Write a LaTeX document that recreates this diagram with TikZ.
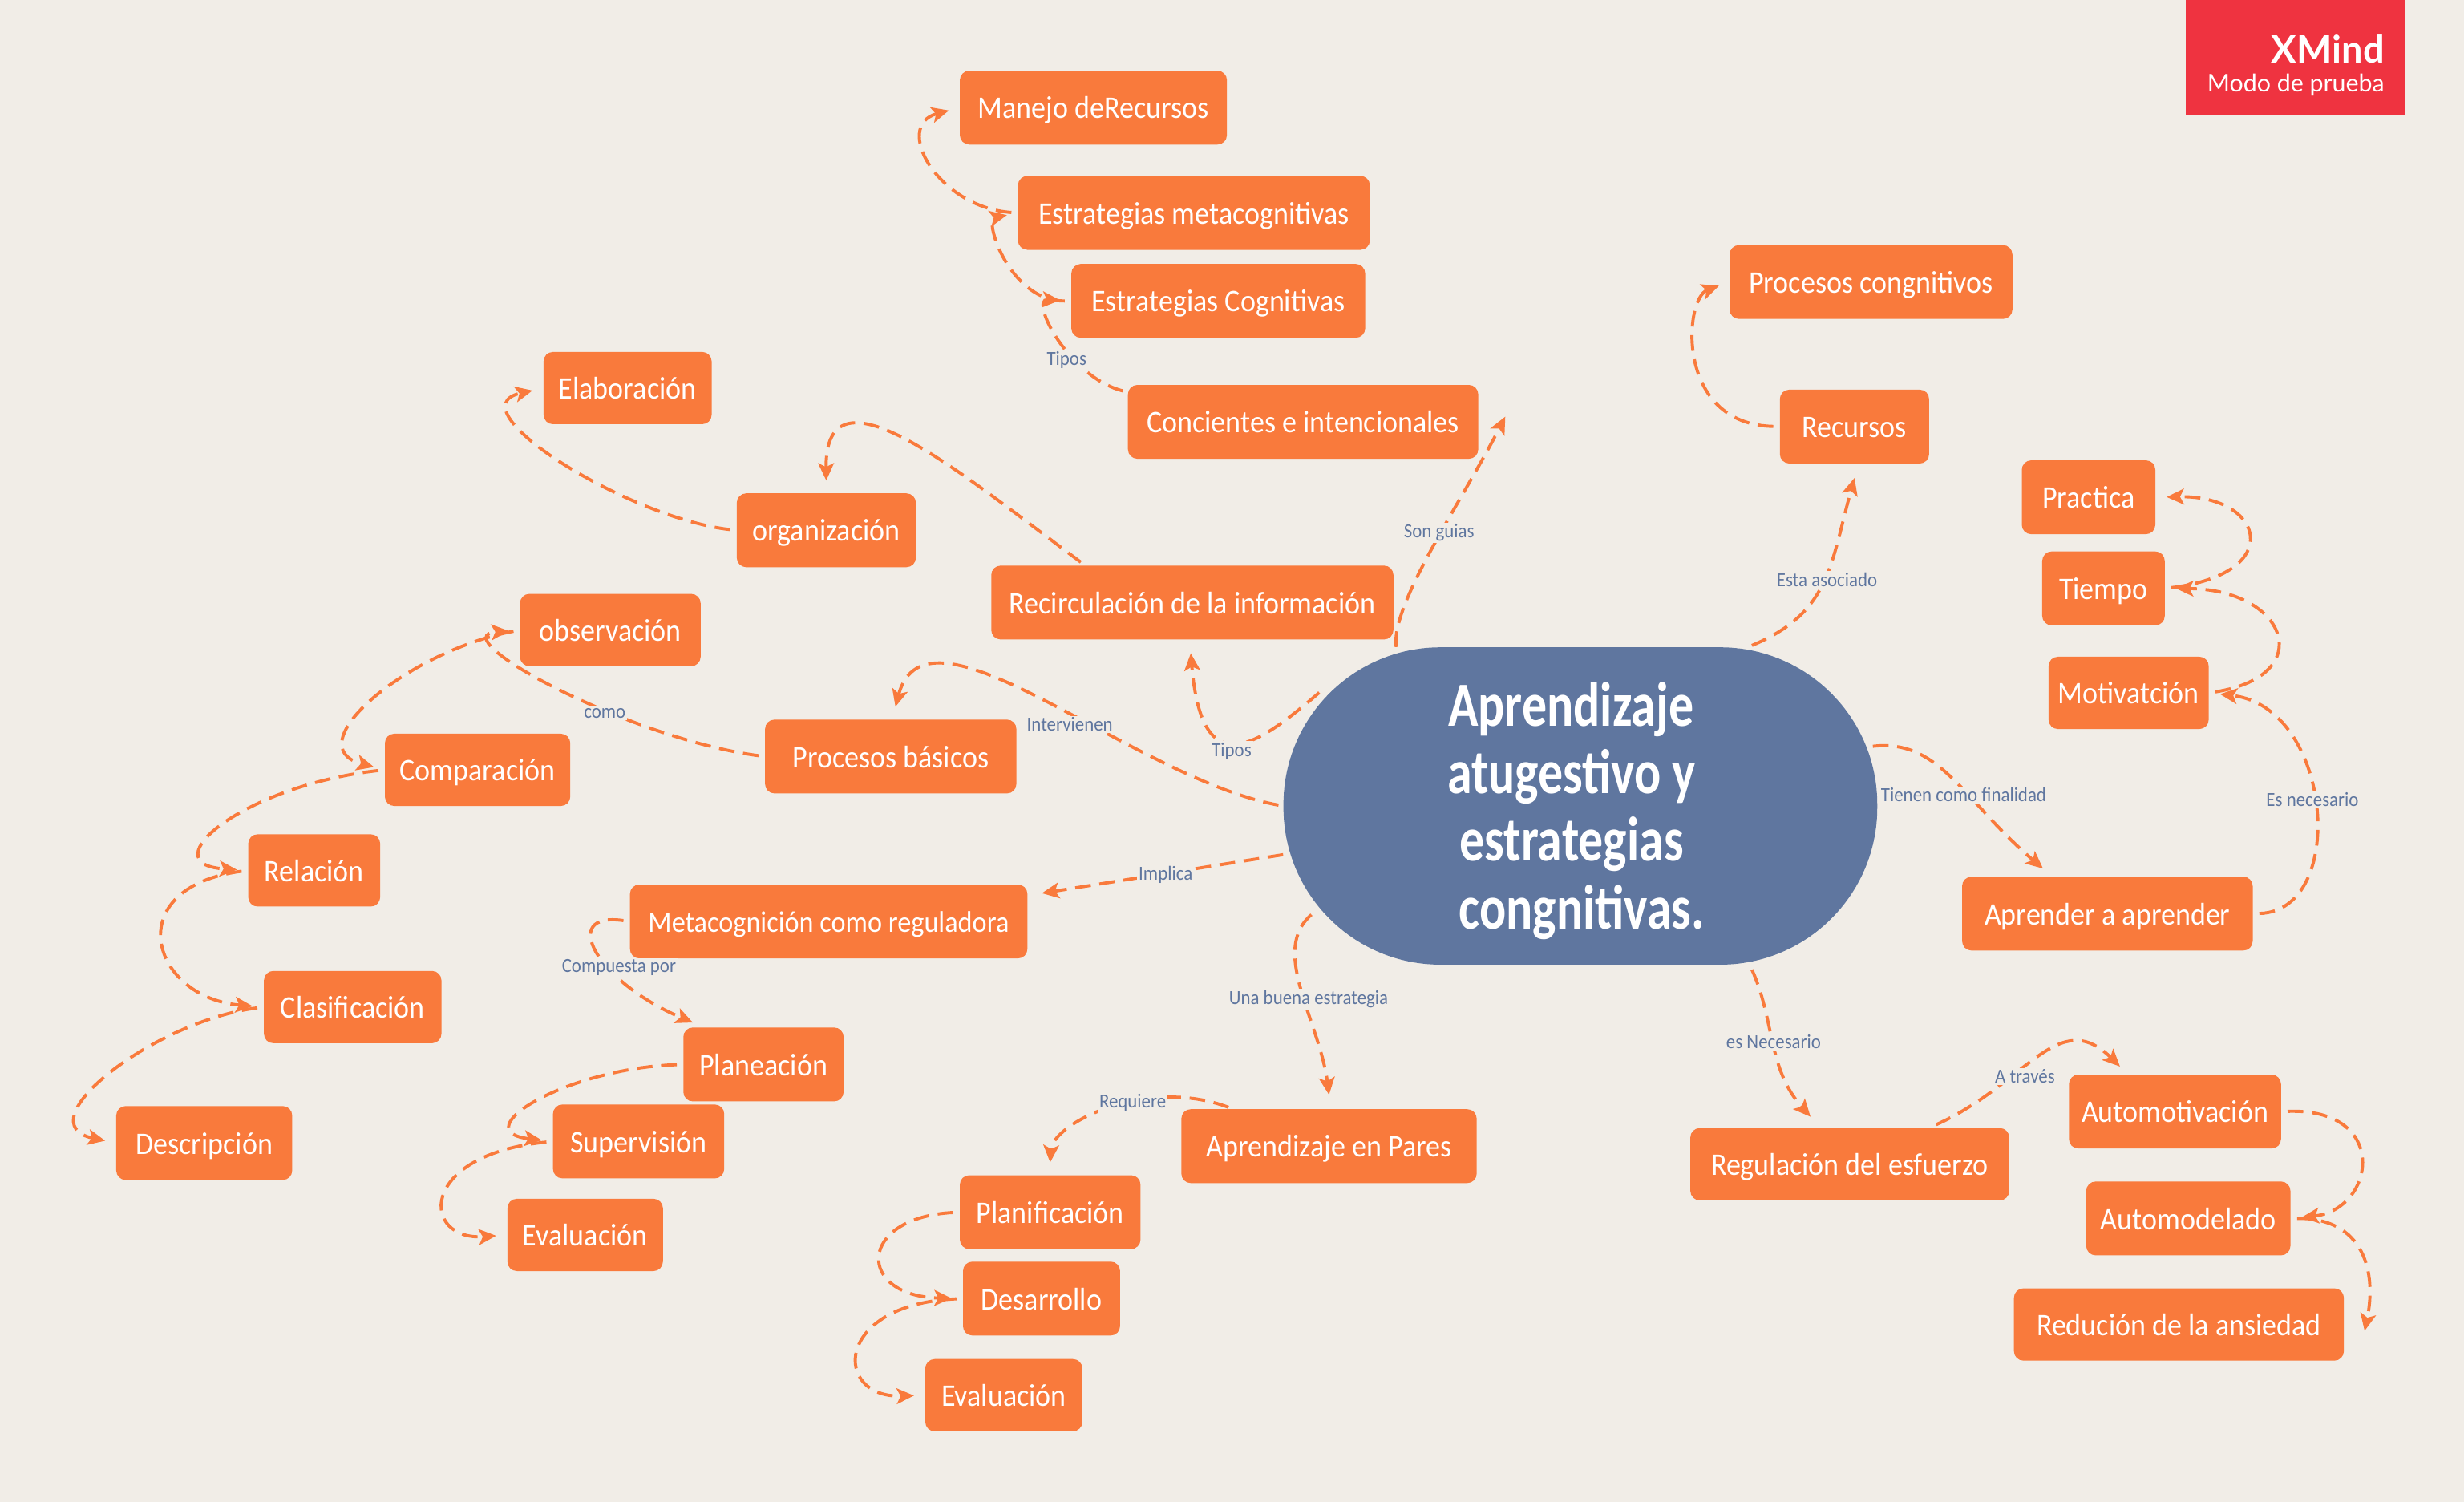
\documentclass[tikz,border=0pt]{standalone}
\usepackage{fontspec}
\setmainfont[FakeStretch=0.92]{Carlito}
\newfontfamily\xmfont{Lato}
\newfontfamily\centralfont[FakeStretch=0.79]{Carlito}
\usetikzlibrary{arrows.meta,calc}
\definecolor{bgc}{HTML}{F1EDE7}
\definecolor{boxc}{HTML}{F97A3C}
\definecolor{blueC}{HTML}{5F769F}
\definecolor{redC}{HTML}{EF3340}
\tikzset{
 box/.style={fill=boxc,text=white,rounded corners=6pt,inner sep=0pt,font=\fontsize{20}{24}\selectfont,anchor=center,text height=17pt,text depth=3pt},
 centralbox/.style={fill=blueC,text=white,rounded corners=100pt,inner sep=0pt,align=center,font=\centralfont\fontsize{40}{43}\selectfont\bfseries},
 lab/.style={fill=bgc,text=blueC,inner sep=1pt,font=\fontsize{12.7}{14}\selectfont},
 conn/.style={draw=boxc,line width=2pt,dash pattern=on 10pt off 5.5pt,-{Stealth[length=11pt,width=10pt,inset=2.5pt]},shorten <=4pt,shorten >=7pt},
}
\newcommand\bx[6]{\pgfmathsetmacro\bw{#4-#2}\pgfmathsetmacro\bh{#5-#3}\node[box,minimum width=\bw pt,minimum height=\bh pt] (#1) at ({(#2+#4)/2},{(#3+#5)/2}) {#6};}
\begin{document}
\begin{tikzpicture}[x=1pt,y=-1pt]
\useasboundingbox (0,0) rectangle (1568.5,956);
\fill[bgc] (0,0) rectangle (1568.5,956);
% watermark
\node[fill=redC,minimum width=139pt,minimum height=73pt,inner sep=0pt] (xm) at (1461,36.5) {};
\node[text=white,anchor=east,inner sep=0pt,font=\xmfont\bfseries\fontsize{24}{26}\selectfont] (xm1) at (1518,31) {XMind};
\node[text=white,anchor=east,inner sep=0pt,font=\xmfont\fontsize{15.5}{18}\selectfont] (xm2) at (1518,54) {Modo de prueba};
% central
\node[centralbox,minimum width=378pt,minimum height=202pt] (c) at (1006,513) {\rule{0pt}{34pt}Aprendizaje\kern12pt\\atugestivo y\kern11pt\\estrategias\kern11pt\\\kern2pt congnitivas.};
% boxes
\bx{manejo}{611}{45}{781}{92}{Manejo deRecursos}
\bx{meta}{648}{112}{872}{159}{Estrategias metacognitivas}
\bx{cog}{682}{168}{869}{215}{Estrategias Cognitivas}
\bx{conc}{718}{245}{941}{292}{Concientes e intencionales}
\bx{pcong}{1101}{156}{1281}{203}{Procesos congnitivos}
\bx{recur}{1133}{248}{1228}{295}{Recursos}
\bx{elab}{346}{224}{453}{270}{Elaboración}
\bx{org}{469}{314}{583}{361}{organización}
\bx{recir}{631}{360}{887}{407}{Recirculación de la información}
\bx{obs}{331}{378}{446}{424}{observación}
\bx{comp}{245}{467}{363}{513}{Comparación}
\bx{pbas}{487}{458}{647}{505}{Procesos básicos}
\bx{rel}{158}{531}{242}{577}{Relación}
\bx{clas}{168}{618}{281}{664}{Clasificación}
\bx{desc}{74}{704}{186}{751}{Descripción}
\bx{mc}{401}{563}{654}{610}{\fontsize{19}{24}\selectfont Metacognición como reguladora}
\bx{plan}{435}{654}{537}{701}{Planeación}
\bx{sup}{352}{703}{461}{750}{Supervisión}
\bx{eval}{323}{763}{422}{809}{Evaluación}
\bx{pares}{752}{706}{940}{753}{Aprendizaje en Pares}
\bx{pla}{611}{748}{726}{795}{Planificación}
\bx{des}{613}{803}{713}{850}{Desarrollo}
\bx{evalb}{589}{865}{689}{911}{Evaluación}
\bx{reg}{1076}{718}{1279}{764}{Regulación del esfuerzo}
\bx{amot}{1317}{684}{1452}{731}{Automotivación}
\bx{amod}{1328}{752}{1458}{799}{Automodelado}
\bx{redu}{1282}{820}{1492}{866}{Redución de la ansiedad}
\bx{apr}{1249}{558}{1434}{605}{Aprender a aprender}
\bx{moti}{1304}{418}{1406}{464}{Motivatción}
\bx{tiem}{1300}{351}{1378}{398}{Tiempo}
\bx{prac}{1287}{293}{1372}{340}{Practica}
% connectors
\draw[conn] (meta.west) .. controls (597,132) and (568,80) .. (manejo.west);
\draw[conn] (cog.west) .. controls (643,192) and (626,140) .. (meta.west);
\draw[conn,shorten <=0pt] ($(conc.north west)+(-3,4)$) .. controls (680,240) and (655,190) .. (cog.west);
\draw[conn,shorten <=0pt,shorten >=0pt] ($(c.north west)+(72,0)$) .. controls (885,385) and (930,320) .. ($(conc.south east)+(17,-27)$);
\draw[conn,shorten <=0pt,shorten >=0pt] ($(c.north west)+(23,29)$) .. controls (800,475) and (765,500) .. ($(recir.north)+(-1,56)$);
\draw[conn,shorten <=0pt,shorten >=2pt] ($(recir.north)+(-71,-2)$) .. controls (610,300) and (525,228) .. ($(org.north)+(0,-6)$);
\draw[conn] (org.west) .. controls (400,330) and (288,260) .. (elab.west);
\draw[conn,shorten <=3pt,shorten >=0pt] (c.west) .. controls (720,495) and (590,375) .. ($(pbas.north)+(3,-8)$);
\draw[conn] (pbas.west) .. controls (400,470) and (280,405) .. (obs.west);
\draw[conn] (obs.west) .. controls (258,415) and (188,475) .. (comp.west);
\draw[conn] (comp.west) .. controls (155,500) and (95,550) .. (rel.west);
\draw[conn] (rel.west) .. controls (75,565) and (96,635) .. (clas.west);
\draw[conn] (clas.west) .. controls (97,650) and (15,715) .. (desc.west);
\draw[conn,shorten <=0pt,shorten >=0pt] ($(c.west)+(0,31)$) -- ($(mc.east)+(9,-18)$);
\draw[conn,shorten >=0pt] (mc.west) .. controls (355,580) and (380,625) .. ($(plan.north)+(-45,-3)$);
\draw[conn] (plan.west) .. controls (360,680) and (295,720) .. (sup.west);
\draw[conn] (sup.west) .. controls (265,735) and (268,790) .. (eval.west);
\draw[conn,shorten <=0pt,shorten >=0pt] ($(c.south west)+(18,-32)$) .. controls (808,605) and (840,650) .. ($(pares.north)+(0,-9)$);
\draw[conn,shorten <=0pt,shorten >=0pt] ($(pares.north)+(-64,-1)$) .. controls (730,685) and (670,715) .. ($(pla.north)+(0,-8)$);
\draw[conn] (pla.west) .. controls (545,775) and (545,825) .. (des.west);
\draw[conn] (des.west) .. controls (530,830) and (530,890) .. (evalb.west);
\draw[conn,shorten <=0pt,shorten >=0pt] ($(c.south east)+(-80,3)$) .. controls (1130,650) and (1125,680) .. ($(reg.north)+(-25,-7)$);
\draw[conn,shorten <=0pt,shorten >=0pt] ($(reg.north)+(55,-2)$) .. controls (1290,690) and (1310,640) .. ($(amot.north)+(-35,-5)$);
\draw[conn] (amot.east) .. controls (1522,705) and (1512,770) .. (amod.east);
\draw[conn,shorten <=4pt,shorten >=0pt] (amod.east) .. controls (1505,775) and (1513,810) .. ($(redu.east)+(13,4)$);
\draw[conn,shorten <=0pt,shorten >=0pt] ($(c.east)+(-3,-38)$) .. controls (1235,470) and (1250,510) .. ($(apr.north)+(-41,-5)$);
\draw[conn] (apr.east) .. controls (1495,580) and (1485,450) .. (moti.east);
\draw[conn] (moti.east) .. controls (1476,430) and (1456,375) .. (tiem.east);
\draw[conn] (tiem.east) .. controls (1456,365) and (1441,315) .. (prac.east);
\draw[conn,shorten <=0pt,shorten >=0pt] ($(c.north east)+(-80,-1)$) .. controls (1165,390) and (1165,360) .. ($(recur.south)+(0,9)$);
\draw[conn] (recur.west) .. controls (1066,270) and (1072,190) .. (pcong.west);
% labels
\node[lab] (l1) at (679,229) {Tipos};
\node[lab] (l2) at (916,339) {Son guias};
\node[lab] (l3) at (784,478) {Tipos};
\node[lab] (l4) at (681,461) {Intervienen};
\node[lab] (l5) at (385,454) {como};
\node[lab] (l6) at (742,557) {Implica};
\node[lab] (l7) at (394,616) {Compuesta por};
\node[lab] (l8) at (833,636) {Una buena estrategia};
\node[lab] (l9) at (721,702) {Requiere};
\node[lab] (l10) at (1129,663) {es Necesario};
\node[lab] (l11) at (1289,685) {A través};
\node[lab] (l12) at (1250,506) {Tienen como finalidad};
\node[lab] (l13) at (1472,509) {Es necesario};
\node[lab] (l14) at (1163,369) {Esta asociado};
\end{tikzpicture}
\end{document}
